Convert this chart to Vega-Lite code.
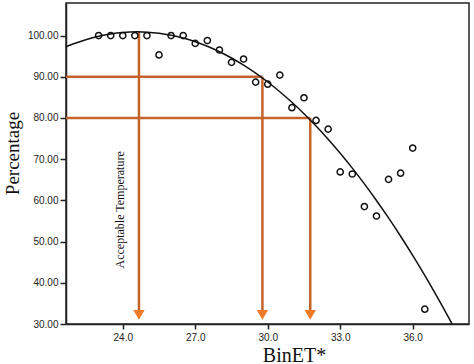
{
  "$schema": "https://vega.github.io/schema/vega-lite/v6.json",
  "autosize": "none",
  "width": 403,
  "height": 321,
  "padding": {"left": 66, "top": 3, "right": 5, "bottom": 40},
  "background": "white",
  "config": {
    "view": {"stroke": "#222", "strokeWidth": 1.5},
    "axis": {"grid": false, "domainColor": "#222", "domainWidth": 1.5, "tickColor": "#222", "tickWidth": 1.5, "labelFont": "Liberation Sans", "labelFontSize": 10, "labelColor": "#222", "titleFont": "Liberation Serif", "titleFontWeight": "normal", "titleFontSize": 21, "titleColor": "#111"}
  },
  "datasets": {
    "pts": [
      {"t": 23.0, "p": 100}, {"t": 23.5, "p": 100}, {"t": 24.0, "p": 100}, {"t": 24.5, "p": 100}, {"t": 25.0, "p": 100},
      {"t": 25.5, "p": 95.3}, {"t": 26.0, "p": 100}, {"t": 26.5, "p": 100}, {"t": 27.0, "p": 98.1}, {"t": 27.5, "p": 98.8},
      {"t": 28.0, "p": 96.5}, {"t": 28.5, "p": 93.5}, {"t": 29.0, "p": 94.3}, {"t": 29.5, "p": 88.7}, {"t": 30.0, "p": 88.2},
      {"t": 30.5, "p": 90.4}, {"t": 31.0, "p": 82.5}, {"t": 31.5, "p": 84.9}, {"t": 32.0, "p": 79.4}, {"t": 32.5, "p": 77.3},
      {"t": 33.0, "p": 66.9}, {"t": 33.5, "p": 66.4}, {"t": 34.0, "p": 58.5}, {"t": 34.5, "p": 56.2}, {"t": 35.0, "p": 65.1},
      {"t": 35.5, "p": 66.6}, {"t": 36.0, "p": 72.7}, {"t": 36.5, "p": 33.6}
    ],
    "curve": [
      {"t": 21.65, "p": 97.27}, {"t": 22.0, "p": 98.08}, {"t": 22.5, "p": 99.06}, {"t": 23.0, "p": 99.83}, {"t": 23.5, "p": 100.39},
      {"t": 24.0, "p": 100.75}, {"t": 24.6, "p": 100.9}, {"t": 25.0, "p": 100.83}, {"t": 25.5, "p": 100.56}, {"t": 26.0, "p": 100.08},
      {"t": 26.5, "p": 99.39}, {"t": 27.0, "p": 98.5}, {"t": 27.5, "p": 97.39}, {"t": 28.0, "p": 96.07}, {"t": 28.5, "p": 94.55},
      {"t": 29.0, "p": 92.82}, {"t": 29.5, "p": 90.88}, {"t": 30.0, "p": 88.73}, {"t": 30.5, "p": 86.37}, {"t": 31.0, "p": 83.8},
      {"t": 31.5, "p": 81.02}, {"t": 32.0, "p": 78.04}, {"t": 32.5, "p": 74.84}, {"t": 33.0, "p": 71.44}, {"t": 33.5, "p": 67.83},
      {"t": 34.0, "p": 64.01}, {"t": 34.5, "p": 59.98}, {"t": 35.0, "p": 55.74}, {"t": 35.5, "p": 51.3}, {"t": 36.0, "p": 46.64},
      {"t": 36.5, "p": 41.78}, {"t": 37.0, "p": 36.7}, {"t": 37.63, "p": 30.02}
    ],
    "hrules": [
      {"t": 21.65, "t2": 29.78, "p": 90},
      {"t": 21.65, "t2": 31.76, "p": 80}
    ],
    "vrules": [
      {"t": 24.67, "p": 101.0, "p2": 33.0},
      {"t": 29.78, "p": 90, "p2": 33.0},
      {"t": 31.76, "p": 80, "p2": 33.0}
    ],
    "arrows": [
      {"t": 24.67, "p": 32.2},
      {"t": 29.78, "p": 32.2},
      {"t": 31.76, "p": 32.2}
    ],
    "label": [
      {"t": 23.89, "p": 57.7, "txt": "Acceptable Temperature"}
    ]
  },
  "encoding": {
    "x": {"field": "t", "type": "quantitative", "scale": {"domain": [21.65, 38.33], "nice": false, "zero": false},
      "axis": {"title": "BinET*", "values": [24, 27, 30, 33, 36], "format": ".1f", "tickSize": 5, "labelPadding": 3, "titleX": 228, "titleY": 37, "titleBaseline": "alphabetic", "titleFontSize": 20}},
    "y": {"field": "p", "type": "quantitative", "scale": {"domain": [30, 107.9], "nice": false, "zero": false},
      "axis": {"title": "Percentage", "values": [30, 40, 50, 60, 70, 80, 90, 100], "format": ".2f", "tickSize": 6, "labelPadding": 2, "titleX": -54, "titleY": 150, "titleBaseline": "middle", "titleAlign": "center", "titleAngle": 270, "titleFontSize": 19}}
  },
  "layer": [
    {"data": {"name": "hrules"}, "mark": {"type": "rule", "color": "#C5632A", "strokeWidth": 2.5},
      "encoding": {"x2": {"field": "t2"}}},
    {"data": {"name": "vrules"}, "mark": {"type": "rule", "color": "#C5632A", "strokeWidth": 2.5},
      "encoding": {"y2": {"field": "p2"}}},
    {"data": {"name": "arrows"}, "mark": {"type": "point", "shape": "triangle-down", "filled": true, "color": "#EE7A2A", "size": 130, "opacity": 1}},
    {"data": {"name": "curve"}, "mark": {"type": "line", "color": "#111", "strokeWidth": 1.5, "interpolate": "monotone"}},
    {"data": {"name": "pts"}, "mark": {"type": "point", "shape": "circle", "filled": false, "color": "#111", "size": 38, "strokeWidth": 1.5, "opacity": 1}},
    {"data": {"name": "label"}, "mark": {"type": "text", "angle": 270, "font": "Liberation Serif", "fontSize": 12, "color": "#111", "align": "center", "baseline": "middle"},
      "encoding": {"text": {"field": "txt"}}}
  ]
}
